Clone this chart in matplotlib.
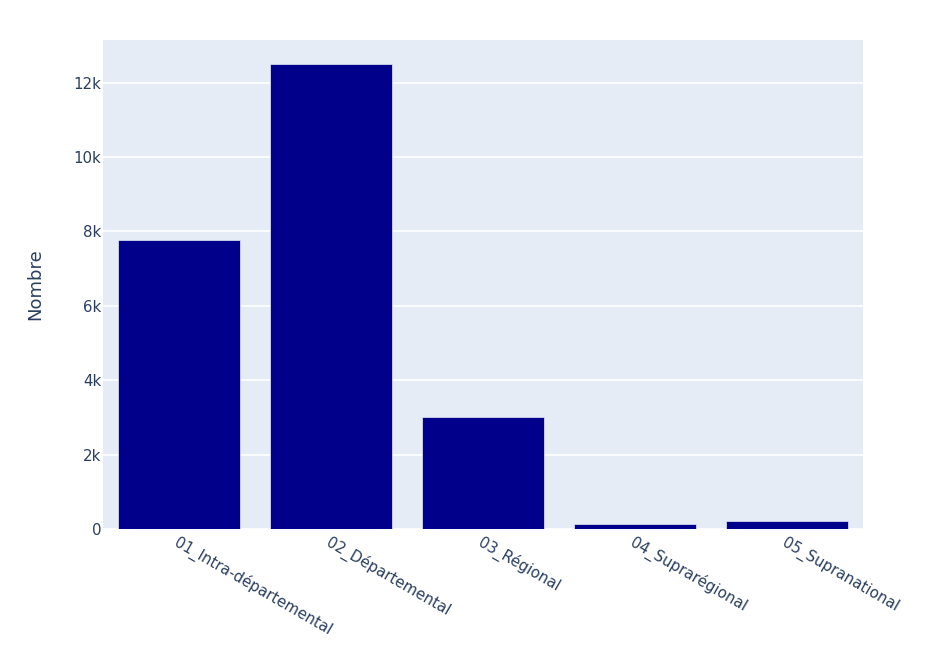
import matplotlib
matplotlib.use("Agg")
import matplotlib.pyplot as plt
from matplotlib.ticker import FuncFormatter

categories = ['01_Intra-départemental', '02_Départemental', '03_Régional',
              '04_Suprarégional', '05_Supranational']
counts = [7780, 12500, 3020, 135, 225]
y_ticks = [0, 2000, 4000, 6000, 8000, 10000, 12000]

plt.rcParams['font.family'] = ['DejaVu Sans']
text_color = '#2a3f5f'

fig = plt.figure(figsize=(9.46, 6.52), dpi=100)
ax = fig.add_axes([0.1092, 0.1887, 0.8031, 0.7504])
ax.set_facecolor('#E5ECF6')

x = list(range(len(categories)))
ax.bar(x, counts, width=0.8, color='#00008B', edgecolor='#E5ECF6', linewidth=0.5, zorder=3)

ax.set_xlim(-0.5, len(categories) - 0.5)
ax.set_ylim(0, max(counts) * 1.0526)
ax.set_yticks(y_ticks)
ax.yaxis.set_major_formatter(FuncFormatter(lambda v, p: '0' if v == 0 else f'{int(v / 1000)}k'))
ax.grid(axis='y', color='white', linewidth=1.2, zorder=0)
ax.set_axisbelow(True)

for s in ax.spines.values():
    s.set_visible(False)

ax.tick_params(axis='y', length=0, pad=1.5, labelsize=10.8, labelcolor=text_color)
ax.tick_params(axis='x', length=0, pad=4, labelsize=10.8, labelcolor=text_color)
ax.set_xticks(x)
ax.set_xticklabels(categories, rotation=-30, ha='left', va='top', rotation_mode='anchor')

ax.set_ylabel('Nombre', fontsize=13, color=text_color)
ax.yaxis.set_label_coords(-0.078, 0.5)

fig.savefig('out.png', dpi=100)
